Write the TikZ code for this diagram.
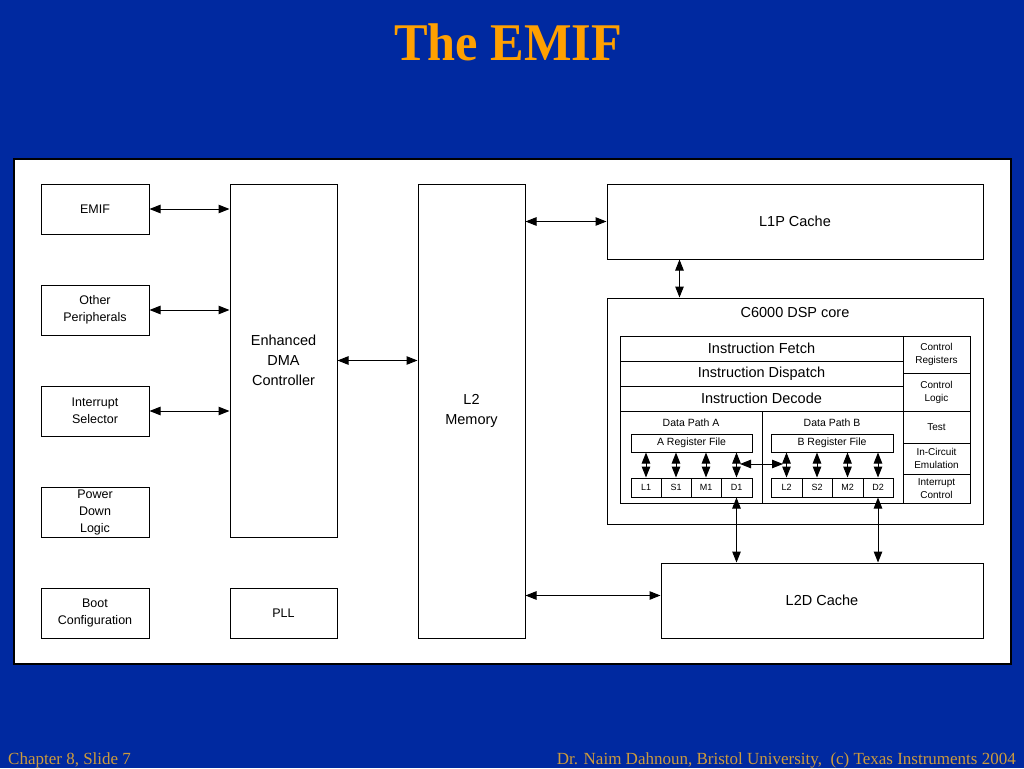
\documentclass[tikz,border=0pt]{standalone}
\usepackage{fontspec}
\setmainfont{Liberation Serif}
\newfontfamily\arialfont{Liberation Sans}
\usetikzlibrary{arrows.meta}
\definecolor{slideBlue}{RGB}{0,41,160}
\definecolor{titleOrange}{RGB}{255,160,0}
\definecolor{footOrange}{RGB}{205,155,60}
\tikzset{
  block/.style={rectangle, fill=white, draw, line width=1pt, inner sep=1pt, align=center,
    font=\arialfont\fontsize{12.5}{17}\selectfont},
  bigBlock/.style={block, font=\arialfont\fontsize{14.5}{20}\selectfont},
  sideBlock/.style={block, minimum width=67pt, font=\arialfont\fontsize{10}{13}\selectfont},
  unitBlock/.style={block, minimum width=30pt, minimum height=19pt, font=\arialfont\fontsize{9}{11}\selectfont},
  regFile/.style={block, minimum height=18pt, font=\arialfont\fontsize{10.5}{12}\selectfont},
  link/.style={{Triangle[length=11pt,width=8.5pt]}-{Triangle[length=11pt,width=8.5pt]}, line width=1pt}
}
\begin{document}
\begin{tikzpicture}[x=1pt, y=-1pt]
      % slide background
      \fill[slideBlue] (0,0) rectangle (1024,768);
      \useasboundingbox (0,0) rectangle (1024,768);

      % title and footer
      \node (title) [anchor=base, text=titleOrange, font=\bfseries\fontsize{53}{60}\selectfont, xscale=0.95] at (508,60) {The EMIF};
      \node (footL) [anchor=base west, inner sep=0, text=footOrange, font=\fontsize{17}{19}\selectfont] at (8,764) {Chapter 8, Slide 7};
      \node (footR) [anchor=base east, inner sep=0, text=footOrange, font=\fontsize{17}{19}\selectfont] at (1016,764) {Dr. Naim Dahnoun, Bristol University,\ \ (c) Texas Instruments 2004};

      % white panel
      \draw[fill=white, line width=1.3pt] (14,159) rectangle (1011,664);

      % left column
      \node (emif) [block, minimum width=108pt, minimum height=50pt] at (95,209) {EMIF};
      \node (periph) [block, minimum width=108pt, minimum height=50pt] at (95,310) {Other\\Peripherals};
      \node (intsel) [block, minimum width=108pt, minimum height=50pt] at (95,411) {Interrupt\\Selector};
      \node (pwr) [block, minimum width=108pt, minimum height=50pt] at (95,512) {Power\\Down\\Logic};
      \node (boot) [block, minimum width=108pt, minimum height=50pt] at (95,613) {Boot\\Configuration};

      \node (dma) [bigBlock, minimum width=107pt, minimum height=353pt] at (283.5,360.5) {Enhanced\\DMA\\Controller};
      \node (pll) [block, minimum width=107pt, minimum height=50pt] at (283.5,613) {PLL};

      \node (l2) [bigBlock, minimum width=107pt, minimum height=454pt] at (471.5,411) {L2\\Memory};

      % right column
      \node (l1p) [bigBlock, minimum width=376pt, minimum height=75pt] at (795,221.5) {L1P Cache};
      \node (core) [block, minimum width=376pt, minimum height=226pt] at (795,411) {};
      \node (coreTitle) [font=\arialfont\fontsize{14.5}{17}\selectfont] at (795,313) {C6000 DSP core};
      \node (l2d) [bigBlock, minimum width=322pt, minimum height=75pt] at (822,600.5) {L2D Cache};

      % core internals
      \node (fetch) [bigBlock, minimum width=283pt, minimum height=25pt] at (761.5,348.5) {Instruction Fetch};
      \node (dispatch) [bigBlock, minimum width=283pt, minimum height=25pt] at (761.5,373.5) {Instruction Dispatch};
      \node (decode) [bigBlock, minimum width=283pt, minimum height=25pt] at (761.5,398.5) {Instruction Decode};
      \node (dpa) [block, minimum width=142pt, minimum height=92pt] at (691,457) {};
      \node (dpb) [block, minimum width=141pt, minimum height=92pt] at (832.5,457) {};
      \node (dpaTitle) [font=\arialfont\fontsize{10.5}{12}\selectfont] at (691,423) {Data Path A};
      \node (dpbTitle) [font=\arialfont\fontsize{10.5}{12}\selectfont] at (832,423) {Data Path B};

      \node (creg) [sideBlock, minimum height=37pt] at (936.5,354.5) {Control\\Registers};
      \node (clogic) [sideBlock, minimum height=38pt] at (936.5,392) {Control\\Logic};
      \node (test) [sideBlock, minimum height=32pt] at (936.5,427) {Test};
      \node (ice) [sideBlock, minimum height=31pt] at (936.5,458.5) {In-Circuit\\Emulation};
      \node (intc) [sideBlock, minimum height=29pt] at (936.5,488.5) {Interrupt\\Control};

      \node (rfa) [regFile, minimum width=121pt] at (691.5,443) {A Register File};
      \node (rfb) [regFile, minimum width=122pt] at (832,443) {B Register File};

      \node (ua1) [unitBlock] at (646,487.5) {L1};
      \node (ua2) [unitBlock] at (676,487.5) {S1};
      \node (ua3) [unitBlock] at (706,487.5) {M1};
      \node (ua4) [unitBlock, minimum width=31pt] at (736.5,487.5) {D1};
      \node (ub1) [unitBlock, minimum width=31pt] at (786.5,487.5) {L2};
      \node (ub2) [unitBlock] at (817,487.5) {S2};
      \node (ub3) [unitBlock, minimum width=31pt] at (847.5,487.5) {M2};
      \node (ub4) [unitBlock] at (878,487.5) {D2};

      % connections
      \draw[link] (emif.east) -- (emif.east -| dma.west);
      \draw[link] (periph.east) -- (periph.east -| dma.west);
      \draw[link] (intsel.east) -- (intsel.east -| dma.west);
      \draw[link] (dma.east) -- (dma.east -| l2.west);
      \draw[link] (l2.east |- l1p.west) -- (l1p.west);
      \draw[link] (l2.east |- l2d.west) ++(0,-5) -- ([yshift=5pt]l2d.west);
      \draw[link] ([xshift=73pt]l1p.south west) -- ([xshift=73pt]core.north west);
      \draw[link] (ua4.south) -- (ua4.south |- l2d.north);
      \draw[link] (ub4.south) -- (ub4.south |- l2d.north);

      \foreach \u in {ua1,ua2,ua3,ua4}
        \draw[link] (\u.north |- rfa.south) -- (\u.north);
      \foreach \u in {ub1,ub2,ub3,ub4}
        \draw[link] (\u.north |- rfb.south) -- (\u.north);

      \coordinate (crossA) at (740,464);
      \coordinate (crossB) at (783,464);
      \draw[link] (crossA) -- (crossB);
\end{tikzpicture}
\end{document}
